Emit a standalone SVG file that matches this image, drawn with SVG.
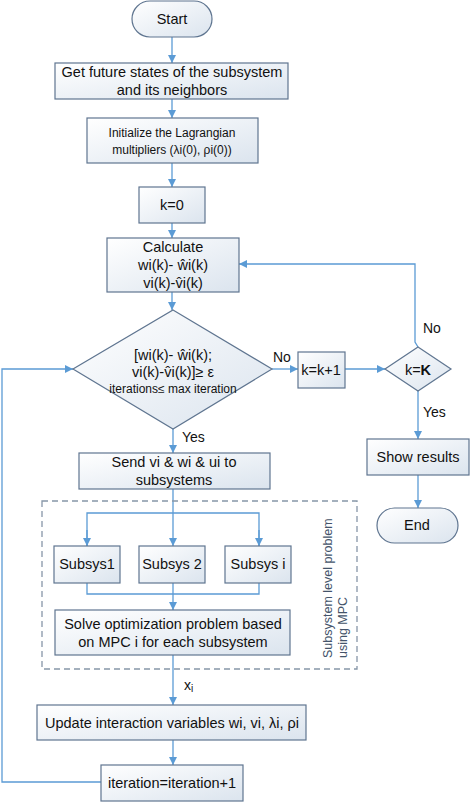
<svg xmlns="http://www.w3.org/2000/svg" width="470" height="802" viewBox="0 0 470 802">
<defs>
<linearGradient id="g" x1="0" y1="0" x2="1" y2="1">
<stop offset="0" stop-color="#ffffff"/>
<stop offset="1" stop-color="#dbe4ee"/>
</linearGradient>
<marker id="ah" viewBox="0 0 10 10" refX="10" refY="5" markerWidth="8" markerHeight="8" markerUnits="userSpaceOnUse" orient="auto">
<path d="M0,0 L10,5 L0,10 z" fill="#5b9bd5"/>
</marker>
</defs>
<style>
.n{fill:url(#g);stroke:#5f7590;stroke-width:1.2}
.t{font-family:"Liberation Sans",Arial,sans-serif;font-size:14.5px;fill:#111;text-anchor:middle}
.s{font-size:12px}
.c{fill:none;stroke:#5b9bd5;stroke-width:1.3}
.a{marker-end:url(#ah)}
.l{font-family:"Liberation Sans",Arial,sans-serif;font-size:14px;fill:#111}
.v{font-family:"Liberation Sans",Arial,sans-serif;font-size:12.5px;fill:#44546a}
</style>
<rect width="470" height="802" fill="#fff"/>
<g id="connectors">
<line class="c a" x1="172" y1="37" x2="172" y2="63"/>
<line class="c a" x1="172" y1="99" x2="172" y2="118"/>
<line class="c a" x1="172" y1="163" x2="172" y2="187"/>
<line class="c a" x1="172" y1="223" x2="172" y2="238"/>
<line class="c a" x1="172" y1="292" x2="172" y2="310"/>
<line class="c a" x1="272" y1="369" x2="298" y2="369"/>
<line class="c a" x1="345" y1="369" x2="385" y2="369"/>
<polyline class="c a" points="418,347 415,342 415,264 239,264"/>
<line class="c a" x1="418" y1="391" x2="418" y2="439"/>
<line class="c a" x1="418" y1="475" x2="418" y2="508"/>
<line class="c a" x1="173" y1="429" x2="173" y2="453"/>
<polyline class="c" points="173,489 173,513"/>
<polyline class="c" points="87,546 87,513 259,513 259,546"/>
<line class="c a" x1="87" y1="530" x2="87" y2="546"/>
<line class="c a" x1="173" y1="513" x2="173" y2="546"/>
<line class="c a" x1="259" y1="530" x2="259" y2="546"/>
<polyline class="c" points="87,583 87,594 259,594 259,583"/>
<line class="c" x1="173" y1="583" x2="173" y2="594"/>
<line class="c a" x1="173" y1="594" x2="173" y2="610"/>
<line class="c a" x1="173" y1="655" x2="173" y2="705"/>
<line class="c a" x1="173" y1="740" x2="173" y2="765"/>
<polyline class="c a" points="101,782 2,782 2,369 73,369"/>
<text class="l" x="273" y="362">No</text>
<text class="l" x="423" y="333">No</text>
<text class="l" x="423" y="417">Yes</text>
<text class="l" x="182" y="442">Yes</text>
<text class="l" x="184" y="690" font-size="15">x<tspan font-size="10" dy="2">i</tspan></text>
</g>
<g id="group-subsystem">
<rect x="42" y="501" width="315" height="168" fill="none" stroke="#8796a8" stroke-width="1.3" stroke-dasharray="6,4"/>
<text class="v" transform="translate(332,658) rotate(-90)">Subsystem level problem</text>
<text class="v" transform="translate(347,658) rotate(-90)">using MPC</text>
</g>
<g id="start">
<rect class="n" x="132" y="1" width="80" height="36" rx="18"/>
<text class="t" x="172" y="24">Start</text>
</g>
<g id="get-states">
<rect class="n" x="55" y="63" width="233" height="36"/>
<text class="t" x="172" y="77">Get future states of the subsystem</text>
<text class="t" x="172" y="95">and its neighbors</text>
</g>
<g id="init">
<rect class="n" x="87" y="118" width="171" height="45"/>
<text class="t s" x="172" y="137">Initialize the Lagrangian</text>
<text class="t s" x="172" y="154">multipliers (λi(0), ρi(0))</text>
</g>
<g id="k0">
<rect class="n" x="139" y="187" width="66" height="36"/>
<text class="t" x="172" y="210">k=0</text>
</g>
<g id="calculate">
<rect class="n" x="107" y="238" width="132" height="54"/>
<text class="t" x="173" y="252">Calculate</text>
<text class="t" x="173" y="270">wi(k)- ŵi(k)</text>
<text class="t" x="173" y="288">vi(k)-v̂i(k)</text>
</g>
<g id="check">
<polygon class="n" points="173,310 272,369 173,429 73,369"/>
<text class="t" x="173" y="360">[wi(k)- ŵi(k);</text>
<text class="t" x="173" y="377">vi(k)-v̂i(k)]≥ ε</text>
<text class="t s" x="173" y="393">iterations≤ max iteration</text>
</g>
<g id="kinc">
<rect class="n" x="298" y="352" width="47" height="36"/>
<text class="t" x="321" y="375">k=k+1</text>
</g>
<g id="kK">
<polygon class="n" points="418,347 451,369 418,391 385,369"/>
<text class="t" x="418" y="375">k=<tspan font-weight="bold">K</tspan></text>
</g>
<g id="show">
<rect class="n" x="367" y="439" width="102" height="36"/>
<text class="t" x="418" y="462">Show results</text>
</g>
<g id="end">
<rect class="n" x="377" y="508" width="81" height="35" rx="17.5"/>
<text class="t" x="417" y="530">End</text>
</g>
<g id="send">
<rect class="n" x="79" y="453" width="191" height="36"/>
<text class="t" x="174" y="467">Send vi &amp; wi &amp; ui to</text>
<text class="t" x="174" y="485">subsystems</text>
</g>
<g id="subsys1">
<rect class="n" x="54" y="546" width="66" height="37"/>
<text class="t" x="87" y="569">Subsys1</text>
</g>
<g id="subsys2">
<rect class="n" x="139" y="546" width="66" height="37"/>
<text class="t" x="172" y="569">Subsys 2</text>
</g>
<g id="subsysi">
<rect class="n" x="225" y="546" width="66" height="37"/>
<text class="t" x="258" y="569">Subsys i</text>
</g>
<g id="solve">
<rect class="n" x="55" y="610" width="235" height="45"/>
<text class="t" x="173" y="629">Solve optimization problem based</text>
<text class="t" x="173" y="647">on MPC i for each subsystem</text>
</g>
<g id="update">
<rect class="n" x="37" y="705" width="269" height="35"/>
<text class="t" x="172" y="728">Update interaction variables wi, vi, λi, ρi</text>
</g>
<g id="iteration">
<rect class="n" x="101" y="765" width="142" height="36"/>
<text class="t" x="172" y="788">iteration=iteration+1</text>
</g>
</svg>
